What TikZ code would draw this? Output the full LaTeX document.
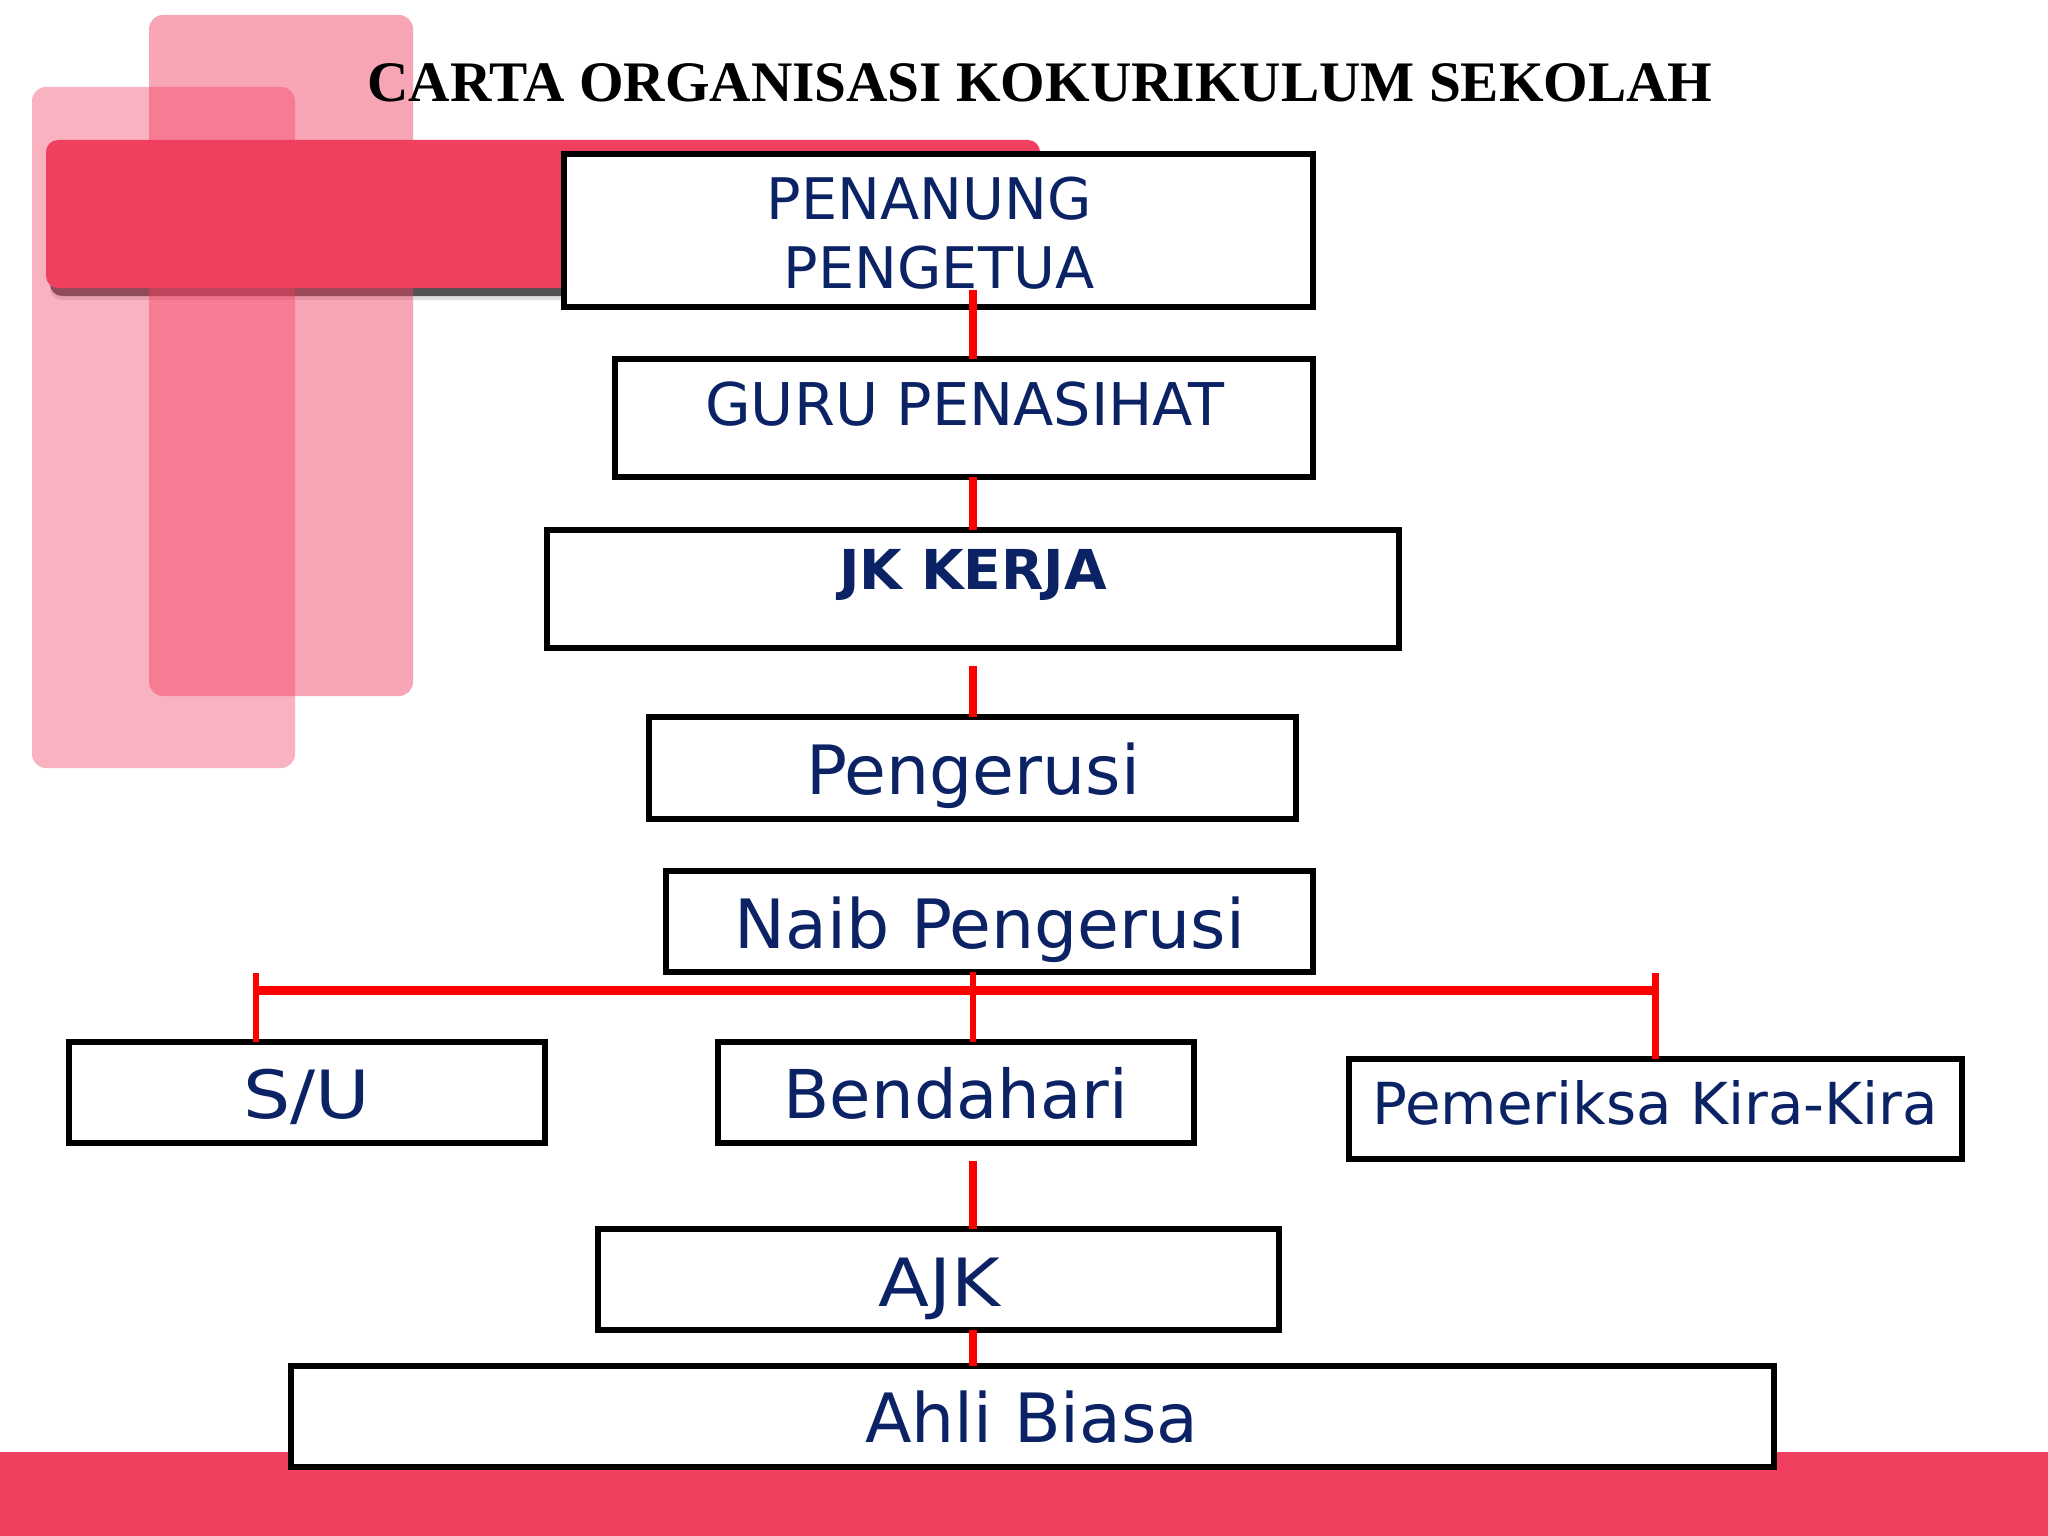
\documentclass[tikz,border=0pt]{standalone}
\usepackage{fontspec}
\setmainfont{DejaVu Sans}
\newfontfamily\titlefont{Liberation Serif}
\usetikzlibrary{calc}
\definecolor{brand}{HTML}{F13F60}
\definecolor{navy}{HTML}{0B2265}
\tikzset{
  x=1pt,y=-1pt,
  orgbox/.style={draw=black,line width=6pt,fill=white,inner sep=0pt,outer sep=0pt},
  lbl/.style={text=navy,anchor=base,inner sep=0pt},
  link/.style={draw=red,line width=7.5pt},
  thinlink/.style={draw=red,line width=6.5pt},
  panel/.style={fill=brand,rounded corners=14pt},
}
\newcommand{\fs}[1]{\fontsize{#1}{#1}\selectfont}
\begin{document}
\begin{tikzpicture}
\useasboundingbox (0,0) rectangle (2048,1536);
\fill[white] (0,0) rectangle (2048,1536);
% bottom band
\fill[brand] (0,1452) rectangle (2048,1536);
% bar + shadow
\fill[black!12,rounded corners=12pt] (50,150) rectangle (1040,300);
\fill[black!68,rounded corners=12pt] (50,150) rectangle (1040,296);
\fill[panel,rounded corners=12pt] (46,140) rectangle (1040,288);
% translucent panels
\fill[panel,opacity=.46] (149,15) rectangle (413,696);
\fill[panel,opacity=.40] (32,87) rectangle (295,768);
% title
\node[anchor=base,inner sep=0pt] (title) at (1040,102) {\titlefont\bfseries\fs{57.3}CARTA ORGANISASI KOKURIKULUM SEKOLAH};
% boxes
\node[orgbox,minimum width=749pt,minimum height=153pt] (penanung) at (938.5,230.5) {};
\node[orgbox,minimum width=698pt,minimum height=118pt] (guru) at (964,418) {};
\node[orgbox,minimum width=852pt,minimum height=118pt] (jk) at (973,589) {};
\node[orgbox,minimum width=647pt,minimum height=102pt] (pengerusi) at (972.5,768) {};
\node[orgbox,minimum width=647pt,minimum height=101pt] (naib) at (989.5,921.5) {};
\node[orgbox,minimum width=476pt,minimum height=101pt] (su) at (307,1092.5) {};
\node[orgbox,minimum width=476pt,minimum height=101pt] (bendahari) at (956,1092.5) {};
\node[orgbox,minimum width=613pt,minimum height=100pt] (pemeriksa) at (1655.5,1109) {};
\node[orgbox,minimum width=681pt,minimum height=101pt] (ajk) at (938.5,1279.5) {};
\node[orgbox,minimum width=1483pt,minimum height=101pt] (ahli) at (1032.5,1416.5) {};
% texts
\node[lbl] (t1) at (929,219.5) {\fs{57.3}PENANUNG};
\node[lbl] (t2) at (939,288.5) {\fs{57.3}PENGETUA};
\node[lbl] (t3) at (965,425.5) {\fs{58.9}GURU PENASIHAT};
\node[lbl] (t4) at (973,589.5) {\bfseries\fs{55}JK KERJA};
\node[lbl] (t5) at (973,794.5) {\fs{68}Pengerusi};
\node[lbl] (t6) at (990,948.5) {\fs{68}Naib Pengerusi};
\node[lbl] (t7) at (307,1118.5) {\scalebox{1.12}[1]{\fs{66.5}S/U}};
\node[lbl] (t8) at (956,1118.5) {\fs{67.3}Bendahari};
\node[lbl] (t9) at (1655,1124.5) {\fs{57.9}Pemeriksa Kira-Kira};
\node[lbl] (t10) at (939,1306.5) {\scalebox{1.12}[1]{\fs{66.5}AJK}};
\node[lbl] (t11) at (1032,1442.5) {\fs{68}Ahli Biasa};
% connectors
\coordinate (spine) at (973,0);
\coordinate (penOut) at (973,290);
\coordinate (jkOut) at (973,666);
\coordinate (benOut) at (973,1161);
\coordinate (busL) at (256,990);
\coordinate (busR) at (1655.5,990);
\coordinate (busLtop) at (256,973);
\coordinate (busRtop) at (1655.5,973);
\draw[link] (penOut) -- (guru.north -| spine);
\draw[link] (guru.south -| spine) -- (jk.north -| spine);
\draw[link] (jkOut) -- (pengerusi.north -| spine);
\draw[thinlink] (naib.south -| spine) -- (bendahari.north -| spine);
\draw[line width=9pt,red] (busL) -- (busR);
\draw[thinlink] (busLtop) -- (su.north -| busLtop);
\draw[thinlink] (busRtop) -- (pemeriksa.north);
\draw[link] (benOut) -- (ajk.north -| spine);
\draw[link] (ajk.south -| spine) -- (ahli.north -| spine);
\end{tikzpicture}
\end{document}
